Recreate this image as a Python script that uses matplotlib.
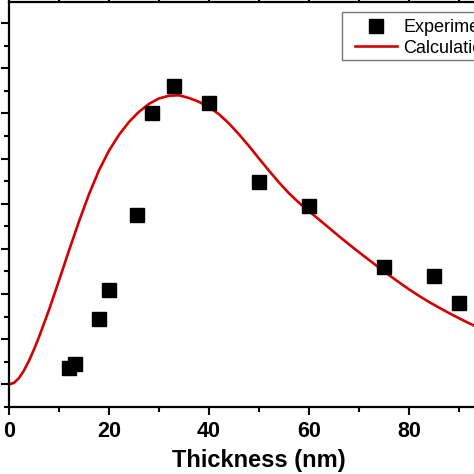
import matplotlib
matplotlib.use("Agg")
import matplotlib.pyplot as plt
from matplotlib.patches import Rectangle
from matplotlib.ticker import MultipleLocator, NullFormatter

plt.rcParams["font.family"] = ["Liberation Sans", "DejaVu Sans"]

# measured points
exp_thickness = [12.0, 13.2, 18.0, 20.0, 25.6, 28.6, 33.0, 40.0, 50.0, 60.0, 75.0, 85.0, 90.0]
exp_values = [0.71, 0.89, 2.88, 4.16, 7.48, 12.0, 13.19, 12.48, 8.94, 7.88, 5.18, 4.78, 3.59]

# calculated curve
calc_thickness = [0, 1, 2, 3, 4, 5, 6, 8, 10, 12, 14, 16, 18, 20, 22, 24, 26, 28, 30, 32, 34,
                  36, 38, 40, 42, 44, 46, 48, 50, 52, 54, 56, 58, 60, 62, 64, 66, 68, 70, 72,
                  74, 76, 78, 80, 82, 84, 86, 88, 90, 92, 94, 96, 98, 100]
calc_values = [0.0, 0.07, 0.28, 0.62, 1.05, 1.55, 2.1, 3.3, 4.6, 5.93, 7.22, 8.42, 9.48,
               10.35, 11.05, 11.62, 12.07, 12.42, 12.66, 12.78, 12.8, 12.68, 12.51, 12.28,
               11.96, 11.55, 11.07, 10.55, 10.0, 9.46, 8.94, 8.46, 8.04, 7.67, 7.3, 6.93,
               6.56, 6.2, 5.85, 5.51, 5.17, 4.84, 4.52, 4.21, 3.92, 3.65, 3.4, 3.16, 2.93,
               2.71, 2.5, 2.3, 2.11, 1.93]

x_ticks = [0, 20, 40, 60, 80, 100]
x_tick_labels = ["0", "20", "40", "60", "80", ""]

fig = plt.figure(figsize=(4.74, 4.74), dpi=100)
ax = fig.add_axes([9 / 474, 67 / 474, 500 / 474, 405 / 474])

ax.plot(calc_thickness, calc_values, color="#d40000", lw=1.9, label="Calculation", zorder=2)
ax.plot(exp_thickness, exp_values, "s", color="black", markersize=9.5, label="Experiment",
        zorder=3)

ax.set_xlim(0, 100)
ax.set_ylim(-1, 16.93)

ax.set_xticks(x_ticks, x_tick_labels, fontweight="bold")
ax.xaxis.set_minor_locator(MultipleLocator(10))
ax.yaxis.set_major_locator(MultipleLocator(2))
ax.yaxis.set_minor_locator(MultipleLocator(1))
ax.yaxis.set_major_formatter(NullFormatter())

ax.tick_params(axis="x", which="both", direction="out", top=True, labelsize=15.5, pad=4)
ax.tick_params(axis="x", which="major", length=6, width=1.5)
ax.tick_params(axis="x", which="minor", length=3.5, width=1.5)
ax.tick_params(axis="y", which="major", direction="out", length=6, width=1.5)
ax.tick_params(axis="y", which="minor", direction="out", length=3.5, width=1.5)

for s in ax.spines.values():
    s.set_linewidth(1.6)

ax.set_xlabel("Thickness (nm)", fontsize=17, fontweight="bold", labelpad=5)

# legend box drawn separately so the handles sit inside it like the original
frame = Rectangle((0.666, 0.857), 0.5, 0.1183, transform=ax.transAxes, facecolor="white",
                  edgecolor="#777777", lw=1.0, clip_on=False, zorder=4)
ax.add_patch(frame)
handles, labels = ax.get_legend_handles_labels()
leg = ax.legend(handles[::-1], labels[::-1], loc="upper left", bbox_to_anchor=(0.692, 0.958),
                fontsize=13, frameon=False, borderaxespad=0, borderpad=0,
                handlelength=2.33, handletextpad=0.33, labelspacing=0.2)
leg.set_zorder(5)

fig.savefig("out.png", dpi=100)
